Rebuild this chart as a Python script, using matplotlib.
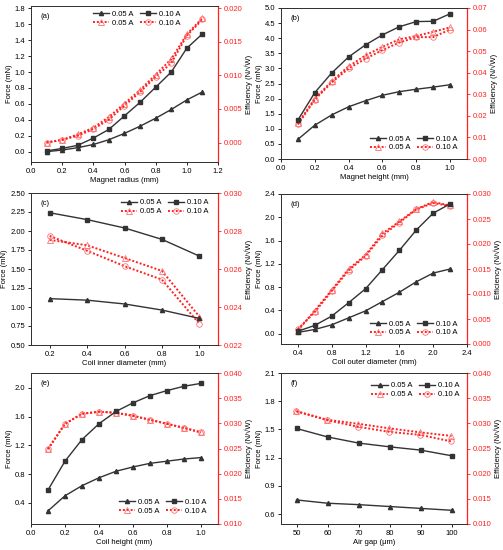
import numpy as np
import matplotlib
matplotlib.use("Agg")
from matplotlib import pyplot as plt

plt.rcParams['font.family'] = ['Liberation Sans', 'DejaVu Sans']
plt.rcParams['font.size'] = 5.5

# (a) magnet radius
x_a = [0.1, 0.2, 0.3, 0.4, 0.5, 0.6, 0.7, 0.8, 0.9, 1.0, 1.1]
f05_a = [0.0, 0.02, 0.05, 0.09, 0.15, 0.23, 0.32, 0.42, 0.53, 0.65, 0.75]
f10_a = [0.01, 0.04, 0.08, 0.17, 0.28, 0.45, 0.62, 0.81, 1.00, 1.30, 1.48]
e05_a = [0.0000, 0.0004, 0.0012, 0.0022, 0.0038, 0.0058, 0.0078, 0.0101, 0.0124, 0.0161, 0.0185]
e10_a = [0.0000, 0.0004, 0.0010, 0.0020, 0.0034, 0.0055, 0.0075, 0.0098, 0.0118, 0.0159, 0.0183]

# (b) magnet height
x_b = [0.1, 0.2, 0.3, 0.4, 0.5, 0.6, 0.7, 0.8, 0.9, 1.0]
f05_b = [0.65, 1.12, 1.46, 1.73, 1.93, 2.11, 2.23, 2.31, 2.38, 2.46]
f10_b = [1.29, 2.20, 2.85, 3.38, 3.78, 4.11, 4.38, 4.55, 4.56, 4.81]
e05_b = [0.0165, 0.0280, 0.0360, 0.0430, 0.0480, 0.0520, 0.0555, 0.0570, 0.0590, 0.0610]
e10_b = [0.0160, 0.0275, 0.0355, 0.0420, 0.0465, 0.0505, 0.0540, 0.0565, 0.0565, 0.0600]

# (c) coil inner diameter
x_c = [0.2, 0.4, 0.6, 0.8, 1.0]
f05_c = [1.11, 1.09, 1.04, 0.96, 0.85]
f10_c = [2.24, 2.15, 2.04, 1.89, 1.67]
e05_c = [0.02753, 0.02725, 0.02658, 0.02590, 0.02350]
e10_c = [0.02774, 0.02696, 0.02615, 0.02544, 0.02312]

# (d) coil outer diameter
x_d = [0.4, 0.6, 0.8, 1.0, 1.2, 1.4, 1.6, 1.8, 2.0, 2.2]
f05_d = [0.02, 0.07, 0.15, 0.27, 0.39, 0.55, 0.71, 0.89, 1.04, 1.11]
f10_d = [0.04, 0.14, 0.30, 0.53, 0.77, 1.10, 1.43, 1.78, 2.07, 2.23]
e05_d = [0.0027, 0.0067, 0.0108, 0.0150, 0.0178, 0.0221, 0.0245, 0.0270, 0.0284, 0.0277]
e10_d = [0.0030, 0.0064, 0.0106, 0.0147, 0.0176, 0.0217, 0.0243, 0.0269, 0.0282, 0.0276]

# (e) coil height
x_e = [0.1, 0.2, 0.3, 0.4, 0.5, 0.6, 0.7, 0.8, 0.9, 1.0]
f05_e = [0.29, 0.50, 0.64, 0.75, 0.84, 0.90, 0.95, 0.98, 1.01, 1.03]
f10_e = [0.58, 0.98, 1.28, 1.50, 1.67, 1.79, 1.89, 1.96, 2.02, 2.06]
e05_e = [0.0249, 0.0299, 0.0319, 0.0323, 0.0321, 0.0315, 0.0307, 0.0299, 0.0291, 0.0282]
e10_e = [0.0249, 0.0299, 0.0319, 0.0323, 0.0321, 0.0315, 0.0307, 0.0299, 0.0291, 0.0282]

# (f) air gap
x_f = [50, 60, 70, 80, 90, 100]
f05_f = [0.75, 0.715, 0.70, 0.68, 0.66, 0.64]
f10_f = [1.51, 1.42, 1.355, 1.315, 1.28, 1.22]
e05_f = [0.0324, 0.0307, 0.0299, 0.0290, 0.0282, 0.0275]
e10_f = [0.0324, 0.0306, 0.0293, 0.0283, 0.0277, 0.0264]

W, H = 503.0, 550.0


def box(l, r, t, b):
    return [l / W, 1 - b / H, (r - l) / W, (b - t) / H]


panels = [
    dict(tag='(a)', x=x_a, f05=f05_a, f10=f10_a, e05=e05_a, e10=e10_a,
         pos=box(31, 218, 6, 162), xlabel='Magnet radius (mm)',
         xlim=(0.0, 1.2), xticks=np.arange(0, 1.21, 0.2), xfmt='%.1f',
         ylim=(-0.13, 1.83), yticks=np.arange(0, 1.81, 0.2), yfmt='%.1f',
         rlim=(-0.0029, 0.0203), rticks=np.arange(0, 0.0201, 0.005), rfmt='%.3f',
         loc='upper right', anchor=(0.80, 0.97)),
    dict(tag='(b)', x=x_b, f05=f05_b, f10=f10_b, e05=e05_b, e10=e10_b,
         pos=box(281, 467, 8, 159), xlabel='Magnet height (mm)',
         xlim=(0.0, 1.1), xticks=np.arange(0, 1.01, 0.2), xfmt='%.1f',
         ylim=(0.0, 5.0), yticks=np.arange(0, 5.01, 0.5), yfmt='%.1f',
         rlim=(0.0, 0.07), rticks=np.arange(0, 0.0701, 0.01), rfmt='%.2f',
         loc='lower right', anchor=(0.95, 0.05)),
    dict(tag='(c)', x=x_c, f05=f05_c, f10=f10_c, e05=e05_c, e10=e10_c,
         pos=box(31, 218, 193, 345), xlabel='Coil inner diameter (mm)',
         xlim=(0.1, 1.1), xticks=np.arange(0.2, 1.01, 0.2), xfmt='%.1f',
         ylim=(0.5, 2.5), yticks=np.arange(0.5, 2.51, 0.25), yfmt='%.2f',
         rlim=(0.022, 0.030), rticks=np.arange(0.022, 0.0301, 0.002), rfmt='%.3f',
         loc='upper right', anchor=(0.95, 0.96)),
    dict(tag='(d)', x=x_d, f05=f05_d, f10=f10_d, e05=e05_d, e10=e10_d,
         pos=box(281, 467, 194, 344), xlabel='Coil outer diameter (mm)',
         xlim=(0.2, 2.4), xticks=np.arange(0.4, 2.41, 0.4), xfmt='%.1f',
         ylim=(-0.18, 2.4), yticks=np.arange(0, 2.41, 0.4), yfmt='%.1f',
         rlim=(0.0, 0.030), rticks=np.arange(0, 0.0301, 0.005), rfmt='%.3f',
         loc='lower right', anchor=(0.95, 0.05)),
    dict(tag='(e)', x=x_e, f05=f05_e, f10=f10_e, e05=e05_e, e10=e10_e,
         pos=box(31, 218, 373, 524), xlabel='Coil height (mm)',
         xlim=(0.0, 1.1), xticks=np.arange(0, 1.01, 0.2), xfmt='%.1f',
         ylim=(0.108, 2.204), yticks=np.arange(0.4, 2.01, 0.4), yfmt='%.1f',
         rlim=(0.010, 0.040), rticks=np.arange(0.010, 0.0401, 0.005), rfmt='%.3f',
         loc='lower right', anchor=(0.94, 0.06)),
    dict(tag='(f)', x=x_f, f05=f05_f, f10=f10_f, e05=e05_f, e10=e10_f,
         pos=box(281, 467, 373, 524), xlabel='Air gap (\u03bcm)',
         xlim=(45, 105), xticks=np.arange(50, 101, 10), xfmt='%d',
         ylim=(0.494, 2.1), yticks=np.arange(0.6, 2.11, 0.3), yfmt='%.1f',
         rlim=(0.010, 0.040), rticks=np.arange(0.010, 0.0401, 0.005), rfmt='%.3f',
         loc='upper right', anchor=(0.96, 0.94)),
]

red = '#ff2020'
red_mk = '#ff7070'
dark = '#333333'

fig = plt.figure(figsize=(5.03, 5.5), dpi=100)

for p in panels:
    ax = fig.add_axes(p['pos'])
    ax2 = ax.twinx()
    ax.set_zorder(ax2.get_zorder() + 1)
    ax.patch.set_visible(False)

    h1, = ax.plot(p['x'], p['f05'], color=dark, lw=1.0, marker='^', ms=3,
                  mfc=dark, mec=dark, label='0.05 A')
    h2, = ax.plot(p['x'], p['f10'], color=dark, lw=1.0, marker='s', ms=2.5,
                  mfc=dark, mec=dark, label='0.10 A')
    h3, = ax2.plot(p['x'], p['e05'], color=red, lw=1.4, ls=(0, (1, 1)),
                   marker='^', ms=4, mfc='none', mec=red_mk, mew=0.6, label='0.05 A')
    h4, = ax2.plot(p['x'], p['e10'], color=red, lw=1.4, ls=(0, (1, 1)),
                   marker='o', ms=4, mfc='none', mec=red_mk, mew=0.6, label='0.10 A')

    ax.set_xlim(*p['xlim'])
    ax.set_xticks(p['xticks'])
    ax.set_xticklabels([p['xfmt'] % v for v in p['xticks']])
    ax.set_ylim(*p['ylim'])
    ax.set_yticks(p['yticks'])
    ax.set_yticklabels([p['yfmt'] % v for v in p['yticks']])
    ax2.set_ylim(*p['rlim'])
    ax2.set_yticks(p['rticks'])
    ax2.set_yticklabels([p['rfmt'] % v for v in p['rticks']])

    ax.set_xlabel(p['xlabel'], labelpad=2)
    ax.set_ylabel('Force (mN)', labelpad=1.5)
    ax2.set_ylabel('Efficiency (N/\u221aW)', labelpad=1.5)

    ax.tick_params(direction='out', length=2.5, width=0.6, pad=1.5)
    ax2.tick_params(direction='out', length=2.5, width=0.6, pad=1.5,
                    colors=red)
    for s in ax.spines.values():
        s.set_linewidth(0.7)
        s.set_color(dark)
    for s in ax2.spines.values():
        s.set_linewidth(0.7)
        s.set_color(dark)
    ax2.spines['right'].set_color(red)
    ax2.spines['right'].set_linewidth(0.9)
    ax.spines['right'].set_visible(False)

    ax.text(0.05, 0.92, p['tag'], transform=ax.transAxes, fontsize=5.5)

    ax.legend([h1, h3, h2, h4], ['0.05 A', '0.05 A', '0.10 A', '0.10 A'],
              ncol=2, loc=p['loc'], bbox_to_anchor=p['anchor'], frameon=False,
              fontsize=5.5, handlelength=2.1, columnspacing=0.9,
              handletextpad=0.4, labelspacing=0.2, borderaxespad=0.0,
              borderpad=0.0)

fig.savefig('out.png', dpi=100)
